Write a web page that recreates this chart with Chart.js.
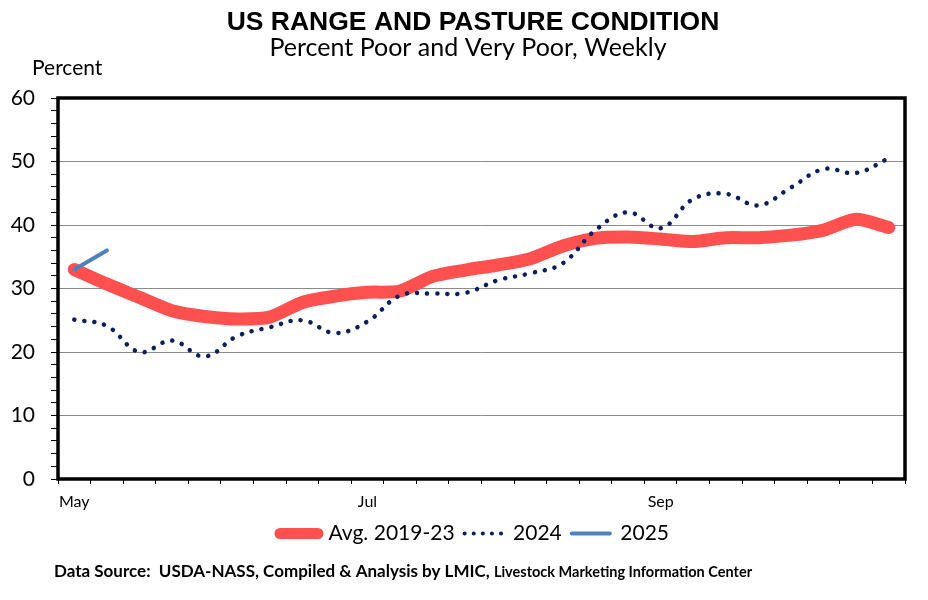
<!DOCTYPE html>
<html>
<head>
<meta charset="utf-8">
<script src="https://cdn.jsdelivr.net/npm/chart.js@4.4.1/dist/chart.umd.min.js"></script>
<style>
  body { margin: 0; background: #fff; }
  #wrap { width: 928px; height: 600px; }
</style>
</head>
<body>
<div id="wrap"><canvas id="chart" width="928" height="600"></canvas></div>
<script>
// weekly points, first week of May through end of October
var weeks = ['May','','','','','','','','','Jul','','','','','','','','','Sep','','','','','','',''];
var avg1923 = [33, 30.7, 28.6, 26.5, 25.6, 25.2, 25.5, 27.8, 28.8, 29.4, 29.6, 31.9, 32.9, 33.7, 34.7, 36.7, 37.9, 38.1, 37.8, 37.4, 38.0, 38.0, 38.4, 39.2, 40.9, 39.6];
var y2024 = [25.1, 24.1, 20.0, 21.8, 19.3, 22.5, 23.9, 25.0, 23.0, 24.8, 28.9, 29.2, 29.3, 31.3, 32.4, 34.0, 39.2, 42.0, 39.5, 44.1, 44.9, 43.1, 45.9, 48.8, 48.2, 50.5];
var y2025 = [33, 36];

var FONT = 'Lato, "Liberation Sans", sans-serif';

var frame = {
  id: 'frame',
  afterLayout: function(chart){
    // nudge legend a little left, like the excel one
    var l = chart.legend;
    if (l) { l.left -= 7; l.right -= 7; }
  },
  afterDraw: function(chart){
    var c = chart.ctx, a = chart.chartArea;
    c.save();
    c.strokeStyle = '#000';
    c.lineWidth = 3.5;
    c.strokeRect(a.left, a.top, a.right - a.left, a.bottom - a.top);

    c.fillStyle = '#000';
    c.textAlign = 'center';
    c.textBaseline = 'alphabetic';
    c.font = 'bold 26.5px "Liberation Sans", Arial, sans-serif';
    c.fillText('US RANGE AND PASTURE CONDITION', 473, 30);
    c.font = '25px ' + FONT;
    c.fillText('Percent Poor and Very Poor, Weekly', 468, 56);

    c.textAlign = 'left';
    c.font = '21px ' + FONT;
    c.fillText('Percent', 32, 75);

    c.font = 'bold 17px ' + FONT;
    var s1 = 'Data Source:  USDA-NASS, Compiled & Analysis by LMIC, ';
    c.fillText(s1, 54, 577);
    var w = c.measureText(s1).width;
    c.font = 'bold 14.5px ' + FONT;
    c.fillText('Livestock Marketing Information Center', 54 + w, 577);
    c.restore();
  }
};

var ctx = document.getElementById('chart');
var myChart = new Chart(ctx, {
  type: 'line',
  data: {
    labels: weeks,
    datasets: [{
      label: 'Avg. 2019-23',
      data: avg1923,
      borderColor: '#FF5050',
      backgroundColor: '#FF5050',
      borderWidth: 13,
      borderCapStyle: 'round',
      borderJoinStyle: 'round',
      tension: 0.25,
      pointRadius: 0,
      order: 3
    }, {
      label: '2024',
      data: y2024,
      borderColor: '#0B1F5C',
      backgroundColor: '#0B1F5C',
      borderWidth: 4.5,
      borderDash: [0.1, 10],
      borderCapStyle: 'round',
      tension: 0.4,
      pointRadius: 0,
      order: 2
    }, {
      label: '2025',
      data: y2025,
      borderColor: '#4F81BD',
      backgroundColor: '#4F81BD',
      borderWidth: 4,
      borderCapStyle: 'round',
      pointRadius: 0,
      order: 1
    }]
  },
  options: {
    responsive: false,
    animation: false,
    layout: { padding: { top: 98, left: 0, right: 23, bottom: 46 } },
    plugins: {
      title: { display: false },
      tooltip: { enabled: false },
      legend: {
        position: 'bottom',
        fullSize: false,
        labels: {
          color: '#000',
          font: { family: FONT, size: 21 },
          usePointStyle: true,
          pointStyleWidth: 38,
          boxHeight: 10,
          padding: 10,
          generateLabels: function(chart){
            return chart.data.datasets.map(function(ds, i){
              return {
                text: ds.label,
                datasetIndex: i,
                pointStyle: 'line',
                strokeStyle: ds.borderColor,
                fillStyle: ds.borderColor,
                lineWidth: i === 0 ? 11 : 4,
                lineCap: 'round',
                lineDash: i === 1 ? [0.1, 9] : [],
                fontColor: '#000',
                hidden: false
              };
            });
          }
        }
      }
    },
    scales: {
      x: {
        offset: true,
        afterFit: function(s){ s.height = 34; },
        grid: { offset: true, drawOnChartArea: false, tickLength: 5, color: '#000', lineWidth: 1 },
        border: { display: false },
        ticks: { autoSkip: false, maxRotation: 0, padding: 8, color: '#000', font: { family: FONT, size: 16 } }
      },
      y: {
        min: 0,
        max: 60,
        afterFit: function(s){ s.width = 58; },
        border: { display: false },
        grid: {
          tickLength: 7,
          tickColor: '#000',
          lineWidth: 1,
          color: function(c){
            var v = c.tick ? c.tick.value : 0;
            return (v % 10 === 0 && v !== 0 && v !== 60) ? '#8C8C8C' : 'rgba(0,0,0,0)';
          }
        },
        ticks: {
          stepSize: 2,
          autoSkip: false,
          padding: 16,
          color: '#000',
          font: { family: FONT, size: 21 },
          callback: function(v){ return v % 10 === 0 ? v : ''; }
        }
      }
    }
  },
  plugins: [frame]
});
</script>
</body>
</html>
